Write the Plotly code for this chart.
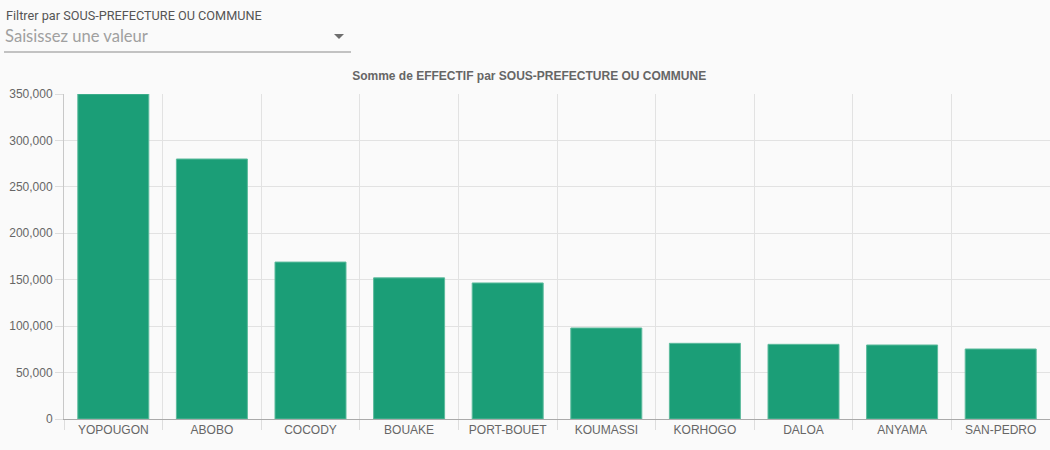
import plotly.graph_objects as go

categories = ["YOPOUGON", "ABOBO", "COCODY", "BOUAKE", "PORT-BOUET",
              "KOUMASSI", "KORHOGO", "DALOA", "ANYAMA", "SAN-PEDRO"]
effectif = [350000, 280000, 169000, 152000, 146500, 98000, 81500, 80400, 79700, 75400]
y_ticks = [0, 50000, 100000, 150000, 200000, 250000, 300000, 350000]

W, H = 1050, 450
L, R, T, B = 64, 0, 94, 31
pw, ph = W - L - R, H - T - B

def px(x):
    return (x - L) / pw

def py(y):
    return (H - B - y) / ph

fig = go.Figure(go.Bar(
    x=categories, y=effectif,
    marker=dict(color="#1b9e77", line=dict(color="#5dbb9d", width=1)),
    width=0.72,
    hovertemplate="%{x}: %{y:,}<extra></extra>",
))

fig.update_layout(
    width=W, height=H,
    margin=dict(l=L, r=R, t=T, b=B),
    paper_bgcolor="#fafafa", plot_bgcolor="#fafafa",
    font=dict(family="Liberation Sans, Arial, sans-serif", size=12, color="#666666"),
    showlegend=False,
    title=dict(text="<b>Somme de EFFECTIF par SOUS-PREFECTURE OU COMMUNE</b>",
               x=0.504, xanchor="center", y=1 - 76 / H, yanchor="middle",
               font=dict(size=12, color="#666666")),
    xaxis=dict(
        type="category", tickson="boundaries", ticks="outside", ticklen=10,
        tickcolor="#dddddd", showgrid=True, gridcolor="#e2e2e2", gridwidth=1,
        showline=True, linecolor="#aaaaaa", linewidth=1,
        tickfont=dict(size=12, color="#666666"), fixedrange=True,
    ),
    yaxis=dict(
        range=[0, 350000], tickvals=y_ticks, tickformat=",",
        ticks="outside", ticklen=8, tickcolor="#dddddd",
        showgrid=True, gridcolor="#e2e2e2", gridwidth=1,
        showline=True, linecolor="#c8c8c8", linewidth=1,
        zeroline=False, tickfont=dict(size=12, color="#666666"),
        fixedrange=True,
    ),
    annotations=[
        dict(text="Filtrer par SOUS-PREFECTURE OU COMMUNE", xref="paper", yref="paper",
             x=px(4), y=py(15), xanchor="left", yanchor="middle", showarrow=False,
             font=dict(family="Roboto, sans-serif", size=12.7, color="#555555")),
        dict(text="Saisissez une valeur", xref="paper", yref="paper",
             x=px(3), y=py(36), xanchor="left", yanchor="middle", showarrow=False,
             font=dict(family="Lato, sans-serif", size=16.6, color="#a0a0a0")),
    ],
    shapes=[
        dict(type="line", xref="paper", yref="paper", x0=px(4), x1=px(351),
             y0=py(52), y1=py(52), line=dict(color="#8a8a8a", width=1)),
        dict(type="path", xref="paper", yref="paper",
             path=f"M {px(334)} {py(34)} L {px(344)} {py(34)} L {px(339)} {py(39)} Z",
             fillcolor="#6e6e6e", line=dict(width=0)),
    ],
)

fig.write_html("out.html", config={"displayModeBar": False},
               post_script="document.body.style.margin='0';document.body.style.overflow='hidden';")
